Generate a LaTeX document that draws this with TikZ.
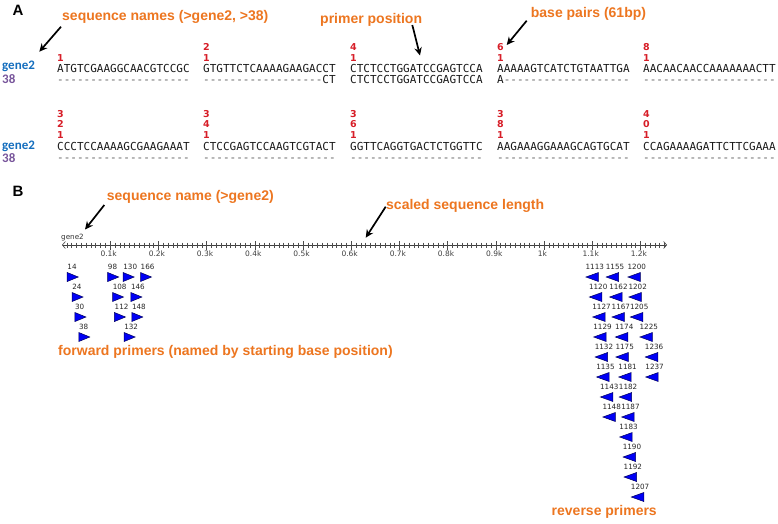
\documentclass[tikz,border=0pt]{standalone}
\usepackage{fontspec}
\setmainfont{Liberation Sans}
\newfontfamily\seqfont[Ligatures=TeXOff]{DejaVu Sans Mono}
\newfontfamily\axfont{DejaVu Sans}
\newfontfamily\calib{Carlito}
\usetikzlibrary{arrows.meta}
\definecolor{orangeC}{RGB}{237,118,32}
\definecolor{redC}{RGB}{215,30,40}
\definecolor{blueN}{RGB}{20,110,190}
\definecolor{purpN}{RGB}{120,85,155}
\definecolor{dgray}{RGB}{95,95,95}
\definecolor{primB}{RGB}{0,0,245}
\definecolor{primE}{RGB}{0,0,90}
\newcommand\fwd[2]{%
  \pgfmathsetmacro\xx{62+#1*0.482-1.5}%
  \pgfmathsetmacro\yy{277+#2*20}%
  \draw[prim] (\xx,\yy-4.5) -- (\xx+11,\yy) -- (\xx,\yy+4.5) -- cycle;
  \node[plab] (f#1) at (\xx,\yy-10) {#1};
}
\newcommand\rev[2]{%
  \pgfmathsetmacro\xx{62+#1*0.482}%
  \pgfmathsetmacro\yy{277+#2*20}%
  \draw[prim] (\xx,\yy-4.5) -- (\xx-12.5,\yy) -- (\xx,\yy+4.5) -- cycle;
  \node[plab] (r#1) at (\xx-13,\yy-10) {#1};
}
\def\D{\textcolor{dgray}{--------------------}}
\begin{document}
\begin{tikzpicture}[x=1pt,y=-1pt,
  panel/.style={font=\bfseries\fontsize{15}{15}\selectfont, inner sep=0, anchor=west},
  lab/.style={font=\bfseries\fontsize{14}{14}\selectfont, text=orangeC, inner sep=0, anchor=west},
  gname/.style={font=\calib\bfseries\fontsize{13}{13}\selectfont, text=blueN, inner sep=0, anchor=west},
  pname/.style={font=\calib\bfseries\fontsize{13}{13}\selectfont, text=purpN, inner sep=0, anchor=west},
  seq/.style={font=\seqfont\fontsize{11}{11}\selectfont, text=black!90, inner sep=0, anchor=west, text height=8pt, text depth=1pt},
  num/.style={font=\axfont\bfseries\fontsize{9.5}{9.5}\selectfont, text=redC, inner sep=0, anchor=west, text height=7pt, text depth=0pt},
  callout/.style={-{Stealth[length=8pt,width=7.5pt]}, line width=1.7pt, black},
  axl/.style={font=\axfont\fontsize{7.5}{7.5}\selectfont, text=black!75, inner sep=0},
  plab/.style={font=\axfont\fontsize{7.2}{7.2}\selectfont, text=black!85, inner sep=0, anchor=west},
  prim/.style={fill=primB, draw=primE, line width=0.5pt, line join=miter},
  tick/.style={black!70, line width=0.5pt}]
\useasboundingbox[fill=white] (0,0) rectangle (778,523);

% ---------- panel A ----------
\node[panel] (pA) at (12.5,10) {A};
\node[lab] (L1) at (62,17.3) {sequence names (>gene2, >38)};
\node[lab] (L2) at (320,20) {primer position};
\node[lab] (L3) at (530.7,14) {base pairs (61bp)};
\coordinate (a1s) at (61,26.7);  \coordinate (a1t) at (39.3,51.7);
\coordinate (a2s) at (412.3,25); \coordinate (a2t) at (420,55.5);
\coordinate (a3s) at (526.7,20.7); \coordinate (a3t) at (506.7,45);
\draw[callout] (a1s) -- (a1t);
\draw[callout] (a2s) -- (a2t);
\draw[callout] (a3s) -- (a3t);

\node[gname] (g1) at (2,66.7) {gene2};
\node[pname] (n1) at (2,79.3) {38};
\node[gname] (g2) at (2,146) {gene2};
\node[pname] (n2) at (2,158) {38};

% row 1 numbers
\node[num] (k11) at (57,58.3) {1};
\node[num] (k12a) at (203,46.5) {2};  \node[num] (k12) at (203,58.3) {1};
\node[num] (k13a) at (350,46.5) {4};  \node[num] (k13) at (350,58.3) {1};
\node[num] (k14a) at (497,46.5) {6};  \node[num] (k14) at (497,58.3) {1};
\node[num] (k15a) at (643,46.5) {8};  \node[num] (k15) at (643,58.3) {1};
% row 1 sequences
\node[seq] (s11) at (57,69.3) {ATGTCGAAGGCAACGTCCGC};
\node[seq] (s12) at (203,69.3) {GTGTTCTCAAAAGAAGACCT};
\node[seq] (s13) at (350,69.3) {CTCTCCTGGATCCGAGTCCA};
\node[seq] (s14) at (497,69.3) {AAAAAGTCATCTGTAATTGA};
\node[seq] (s15) at (643,69.3) {AACAACAACCAAAAAAACTT};
\node[seq] (d11) at (57,80.3) {\D};
\node[seq] (d12) at (203,80.3) {\textcolor{dgray}{------------------}CT};
\node[seq] (d13) at (350,80.3) {CTCTCCTGGATCCGAGTCCA};
\node[seq] (d14) at (497,80.3) {A\textcolor{dgray}{-------------------}};
\node[seq] (d15) at (643,80.3) {\D};

% row 2 numbers
\node[num] (k21a) at (57,114) {3};  \node[num] (k21b) at (57,124.3) {2};  \node[num] (k21) at (57,134.6) {1};
\node[num] (k22a) at (203,114) {3}; \node[num] (k22b) at (203,124.3) {4}; \node[num] (k22) at (203,134.6) {1};
\node[num] (k23a) at (350,114) {3}; \node[num] (k23b) at (350,124.3) {6}; \node[num] (k23) at (350,134.6) {1};
\node[num] (k24a) at (497,114) {3}; \node[num] (k24b) at (497,124.3) {8}; \node[num] (k24) at (497,134.6) {1};
\node[num] (k25a) at (643,114) {4}; \node[num] (k25b) at (643,124.3) {0}; \node[num] (k25) at (643,134.6) {1};
% row 2 sequences
\node[seq] (s21) at (57,146.5) {CCCTCCAAAAGCGAAGAAAT};
\node[seq] (s22) at (203,146.5) {CTCCGAGTCCAAGTCGTACT};
\node[seq] (s23) at (350,146.5) {GGTTCAGGTGACTCTGGTTC};
\node[seq] (s24) at (497,146.5) {AAGAAAGGAAAGCAGTGCAT};
\node[seq] (s25) at (643,146.5) {CCAGAAAAGATTCTTCGAAA};
\node[seq] (d21) at (57,157.5) {\D};
\node[seq] (d22) at (203,157.5) {\D};
\node[seq] (d23) at (350,157.5) {\D};
\node[seq] (d24) at (497,157.5) {\D};
\node[seq] (d25) at (643,157.5) {\D};

% ---------- panel B ----------
\node[panel] (pB) at (12.5,191.7) {B};
\node[lab] (L4) at (106.7,197) {sequence name (>gene2)};
\node[lab] (L5) at (386,206) {scaled sequence length};
\coordinate (b1s) at (104.3,205); \coordinate (b1t) at (85,229.5);
\coordinate (b2s) at (385.7,206.7); \coordinate (b2t) at (365.7,237.7);
\draw[callout] (b1s) -- (b1t);
\draw[callout] (b2s) -- (b2t);

\node[font=\axfont\fontsize{7.2}{7.2}\selectfont, text=black!80, inner sep=0, anchor=west] (ax) at (61,237.5) {gene2};
\coordinate (axL) at (62,245); \coordinate (axR) at (667,245);
\draw[black!75, line width=0.6pt, {Straight Barb[length=3pt,width=7pt]}-{Straight Barb[length=3pt,width=7pt]}] (axL) -- (axR);
\foreach \i in {1,...,125} {\draw[tick] ({62+\i*4.82},242.5) -- ++(0,5);}
\foreach \i in {1,...,12} {\draw[tick] ({62+\i*48.2},241) -- ++(0,8.5);}
\foreach \i/\t in {1/0.1k,2/0.2k,3/0.3k,4/0.4k,5/0.5k,6/0.6k,7/0.7k,8/0.8k,9/0.9k,10/1k,11/1.1k,12/1.2k}
  {\node[axl] (t\i) at ({62+\i*48.2-1.5},253.5) {\t};}

% forward primers
\fwd{14}{0} \fwd{98}{0} \fwd{130}{0} \fwd{166}{0}
\fwd{24}{1} \fwd{108}{1} \fwd{146}{1}
\fwd{30}{2} \fwd{112}{2} \fwd{148}{2}
\fwd{38}{3} \fwd{132}{3}

% reverse primers
\rev{1113}{0} \rev{1155}{0} \rev{1200}{0}
\rev{1120}{1} \rev{1162}{1} \rev{1202}{1}
\rev{1127}{2} \rev{1167}{2} \rev{1205}{2}
\rev{1129}{3} \rev{1174}{3} \rev{1225}{3}
\rev{1132}{4} \rev{1175}{4} \rev{1236}{4}
\rev{1135}{5} \rev{1181}{5} \rev{1237}{5}
\rev{1143}{6} \rev{1182}{6}
\rev{1148}{7} \rev{1187}{7}
\rev{1183}{8}
\rev{1190}{9}
\rev{1192}{10}
\rev{1207}{11}

\node[lab] (L6) at (58,352) {forward primers (named by starting base position)};
\node[lab, anchor=east] (L7) at (657,512) {reverse primers};
\end{tikzpicture}
\end{document}
